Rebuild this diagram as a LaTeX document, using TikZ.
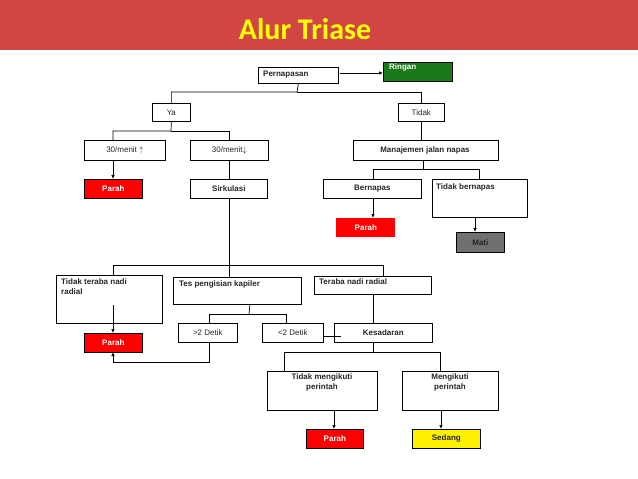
\documentclass[tikz,border=0pt]{standalone}
\usepackage{fontspec}
\setmainfont{Liberation Sans}
\newfontfamily\titlefont{Carlito}
\usetikzlibrary{arrows.meta}
\definecolor{barred}{HTML}{D24545}
\definecolor{titleyel}{HTML}{FFFF00}
\definecolor{okgreen}{HTML}{1A7A1A}
\definecolor{matigray}{HTML}{707070}
\tikzset{
  box/.style={draw, line width=0.7pt, anchor=north west, inner sep=0pt},
  txt/.style={font=\fontsize{8}{9.5}\selectfont, inner sep=0pt, text=black!85},
  btxt/.style={txt, font=\fontsize{8}{9.5}\selectfont\bfseries},
  ln/.style={line width=0.7pt},
  ar/.style={ln, -{Latex[length=4pt,width=3.5pt]}}
}
% name, x1, y1, x2, y2, extra style
\newcommand\mybox[6]{\node[box, minimum width=#4pt-#2pt, minimum height=#5pt-#3pt, #6] (#1) at (#2,#3) {};}
\begin{document}
\begin{tikzpicture}[x=1pt,y=-1pt]
\useasboundingbox (0,0) rectangle (638,479);
\fill[white] (0,0) rectangle (638,479);
\fill[barred] (0,0) rectangle (638,50);
\node[font=\titlefont\bfseries\fontsize{30}{32}\selectfont, text=titleyel] (title) at (305,29) {Alur Triase};

\mybox{pern}{258}{67}{338}{83}{}
\node[btxt, anchor=west] (pernt) at (263,75) {Pernapasan};
\mybox{ring}{383}{62}{452}{81}{fill=okgreen}
\node[btxt, text=white, anchor=north west] (ringt) at (389,64) {Ringan};
\draw[ar] (340,73) -- (ring.west|-340,73);

\mybox{ya}{152}{103}{190}{121}{}
\node[txt] (yat) at (ya.center) {Ya};
\mybox{tidak}{398}{103}{444}{121}{}
\node[txt] (tidakt) at (tidak.center) {Tidak};
\draw[ln] (pern.south) -- (297,92) -| (ya.north);
\draw[ln] (297,92) -| (tidak.north);

\mybox{m1}{84}{140}{165}{160}{}
\node[txt] (m1t) at (m1.center) {30/menit $\uparrow$};
\mybox{m2}{190}{140}{268}{160}{}
\node[txt] (m2t) at (m2.center) {30/menit$\downarrow$};
\draw[ln] (ya.south) -- (171,131) -| (113,140);
\draw[ln] (171,131) -| (229,140);

\mybox{man}{353}{140}{498}{160}{}
\node[btxt] (mant) at (m2.center-|425,0) {Manajemen jalan napas};
\draw[ln] (tidak.south) -- (man.north-|tidak.south);

\mybox{p1}{84}{179}{142}{198}{fill=red}
\node[btxt, text=white] (p1t) at (p1.center) {Parah};
\draw[ar] (113,160) -- (113,179);
\mybox{sirk}{190}{179}{267}{198}{}
\node[btxt] (sirkt) at (sirk.center) {Sirkulasi};
\draw[ln] (229,160) -- (229,179);

\mybox{bern}{323}{179}{421}{198}{}
\node[btxt] (bernt) at (bern.center) {Bernapas};
\mybox{tb}{432}{179}{527}{217}{}
\node[btxt, anchor=north west] (tbt) at (436,184) {Tidak bernapas};
\draw[ln] (423,160) -- (423,169) -| (373,179);
\draw[ln] (423,169) -| (479,179);

\mybox{p2}{336}{218}{395}{237}{fill=red, draw=none}
\node[btxt, text=white] (p2t) at (p2.center) {Parah};
\draw[ar] (373,198) -- (373,218);
\mybox{mati}{456}{232}{504}{252}{fill=matigray}
\node[btxt] (matit) at (mati.center) {Mati};
\draw[ar] (475,217) -- (475,232);

\mybox{ttn}{56}{275}{162}{323}{}
\node[btxt, anchor=north west, align=left] (ttnt) at (61,279) {Tidak teraba nadi\\radial};
\mybox{tes}{173}{277}{301}{304}{}
\node[btxt, anchor=north west] (test) at (179,281) {Tes pengisian kapiler};
\mybox{tnr}{314}{276}{431}{294}{}
\node[btxt, anchor=north west] (tnrt) at (319,279) {Teraba nadi radial};
\draw[ln] (229,198) -- (229,265);
\draw[ln] (113,275) |- (383,265) -- (383,276);
\draw[ln] (229,265) -- (229,277);

\mybox{p3}{84}{333}{142}{352}{fill=red}
\node[btxt, text=white] (p3t) at (p3.center) {Parah};
\draw[ar] (113,305) -- (113,333);

\mybox{d1}{178}{323}{237}{342}{}
\node[txt] (d1t) at (d1.center) {>2 Detik};
\mybox{d2}{262}{323}{323}{342}{}
\node[txt] (d2t) at (d2.center) {<2 Detik};
\mybox{kes}{334}{323}{432}{342}{}
\node[btxt] (kest) at (kes.center) {Kesadaran};
\draw[ln] (250,304) -- (249,314);
\draw[ln] (209,323) |- (286,314) -- (286,323);
\draw[ln] (323,336) -- (341,336);
\draw[ln] (373,294) -- (373,323);
\draw[ar] (209,342) |- (113,362) -- (113,352);

\mybox{tm}{267}{371}{377}{410}{}
\node[btxt, align=center, anchor=north] (tmt) at (322,374) {Tidak mengikuti\\perintah};
\mybox{mg}{402}{371}{498}{410}{}
\node[btxt, align=center, anchor=north] (mgt) at (450,374) {Mengikuti\\perintah};
\draw[ln] (373,342) -- (373,352);
\draw[ln] (284,371) |- (440,352) -- (440,371);

\mybox{p4}{306}{429}{363}{448}{fill=red}
\node[btxt, text=white] (p4t) at (p4.center) {Parah};
\mybox{sed}{412}{429}{480}{448}{fill=yellow}
\node[btxt] (sedt) at (sed.center) {Sedang};
\draw[ar] (334,410) -- (334,429);
\draw[ar] (441,410) -- (441,429);
\end{tikzpicture}
\end{document}
